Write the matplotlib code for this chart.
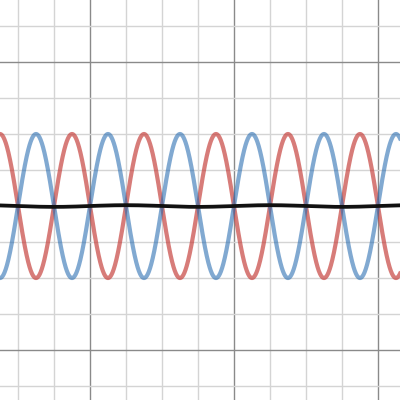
import numpy as np
import matplotlib
matplotlib.use("Agg")
import matplotlib.pyplot as plt

x_min, x_max = -1.25, 4.306
y_min, y_max = -2.694, 2.861
amplitude = 1.0
frequency = 1.0
ripple = 0.012

x = np.linspace(x_min, x_max, 2000)
red = -amplitude * np.sin(2 * np.pi * frequency * x)
blue = amplitude * np.sin(2 * np.pi * frequency * x)
black = ripple * np.sin(2 * np.pi * 0.5 * x)

fig = plt.figure(figsize=(4, 4), dpi=100)
ax = fig.add_axes([0, 0, 1, 1])
ax.set_xlim(x_min, x_max)
ax.set_ylim(y_min, y_max)
for v in np.arange(-1.0, 4.5, 0.5):
    major = abs(v / 2 - round(v / 2)) < 1e-9
    ax.axvline(v, color="#8a8a8a" if major else "#d4d4d4", lw=1.0, zorder=0)
for v in np.arange(-2.5, 3.0, 0.5):
    major = abs(v / 2 - round(v / 2)) < 1e-9
    ax.axhline(v, color="#8a8a8a" if major else "#d4d4d4", lw=1.0, zorder=0)
ax.plot(x, red, color="#c74440", alpha=0.7, lw=3.0)
ax.plot(x, blue, color="#2d70b3", alpha=0.6, lw=3.0)
ax.plot(x, black, color="#111111", lw=2.7)
ax.set_axis_off()
fig.savefig("out.png", dpi=100)
